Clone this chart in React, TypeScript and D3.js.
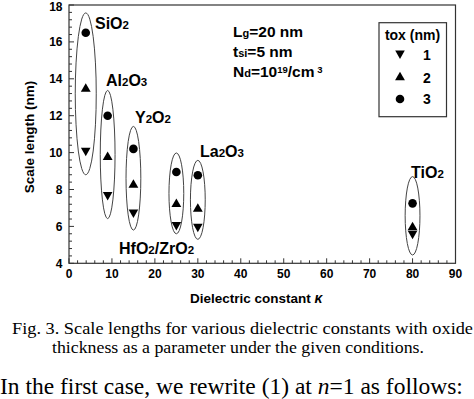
import React, { useEffect, useRef } from 'react'
import * as d3 from 'd3'

// oxides, their dielectric constants and scale lengths (nm) per tox
const oxideNames = ['SiO', 'Al', 'Y', 'HfO', 'La', 'TiO']
const kappa = [3.9, 9, 15, 25, 30, 80]
const tox1 = [10.05, 7.65, 6.7, 6.02, 5.93, 5.55] // tox = 1 nm, down triangle
const tox2 = [13.45, 9.75, 8.25, 7.2, 6.95, 5.95] // tox = 2 nm, up triangle
const tox3 = [16.5, 12.0, 10.2, 8.95, 8.77, 7.25] // tox = 3 nm, circle
// vertical extent of the grouping ellipses (nm)
const groupTop = [17.57, 13.37, 11.42, 9.98, 9.58, 8.7]
const groupBottom = [8.8, 6.42, 5.8, 5.6, 5.3, 4.45]

const xTicks = [0, 10, 20, 30, 40, 50, 60, 70, 80, 90]
const yTicks = [4, 6, 8, 10, 12, 14, 16, 18]
const legendLabels = ['1', '2', '3']

const W = 474
const H = 399

const App = () => {
  const ref = useRef<SVGSVGElement>(null)

  useEffect(() => {
    const svg = d3.select(ref.current)
    svg.selectAll('*').remove()

    const x = d3.scaleLinear().domain([0, 90]).range([69, 455.5])
    const y = d3.scaleLinear().domain([4, 18]).range([263.3, 5])
    const bold = 'Arial, "Liberation Sans", sans-serif'

    // frame
    svg.append('rect')
      .attr('x', x(0)).attr('y', y(18))
      .attr('width', x(90) - x(0)).attr('height', y(4) - y(18))
      .attr('fill', 'none').attr('stroke', '#333').attr('stroke-width', 1.2)

    // ticks point inward
    const g = svg.append('g')
    d3.range(0, 91, 2).forEach((v) => {
      const major = v % 10 === 0
      g.append('line')
        .attr('x1', x(v)).attr('x2', x(v))
        .attr('y1', y(4)).attr('y2', y(4) - (major ? 5 : 3))
        .attr('stroke', '#333').attr('stroke-width', 1)
    })
    d3.range(4, 18.01, 0.4).forEach((v) => {
      const major = Math.abs(v - Math.round(v)) < 0.01 && Math.round(v) % 2 === 0
      g.append('line')
        .attr('x1', x(0)).attr('x2', x(0) + (major ? 5 : 3))
        .attr('y1', y(v)).attr('y2', y(v))
        .attr('stroke', '#333').attr('stroke-width', 1)
    })

    g.selectAll('.xl').data(xTicks).enter().append('text')
      .attr('x', (d) => x(d)).attr('y', 278)
      .attr('text-anchor', 'middle')
      .attr('font-family', bold).attr('font-weight', 'bold').attr('font-size', 12)
      .text((d) => d)
    g.selectAll('.yl').data(yTicks).enter().append('text')
      .attr('x', 62.5).attr('y', (d) => Math.max(y(d) + 4.3, 11))
      .attr('text-anchor', 'end')
      .attr('font-family', bold).attr('font-weight', 'bold').attr('font-size', 12)
      .text((d) => d)

    // axis titles
    const xt = svg.append('text')
      .attr('x', 190).attr('y', 303)
      .attr('font-family', bold).attr('font-weight', 'bold').attr('font-size', 13.5)
    xt.append('tspan').text('Dielectric constant  ')
    xt.append('tspan').attr('font-style', 'italic').attr('font-size', 14).text('κ')

    svg.append('text')
      .attr('transform', 'translate(34,137) rotate(-90)')
      .attr('text-anchor', 'middle')
      .attr('font-family', bold).attr('font-weight', 'bold').attr('font-size', 13.5)
      .text('Scale length (nm)')

    // grouping ellipses
    kappa.forEach((k, i) => {
      svg.append('ellipse')
        .attr('cx', x(k))
        .attr('cy', (y(groupTop[i]) + y(groupBottom[i])) / 2)
        .attr('rx', i === 0 ? 10.5 : 7.4)
        .attr('ry', (y(groupBottom[i]) - y(groupTop[i])) / 2)
        .attr('fill', 'none').attr('stroke', '#444').attr('stroke-width', 1)
    })

    const triUp = d3.symbol().type(d3.symbolTriangle).size(42)
    const triDown = 'M-4.8,-4 L4.8,-4 L0,4.5 Z'
    const dots = svg.append('g')
    kappa.forEach((k, i) => {
      dots.append('path').attr('d', triDown)
        .attr('transform', `translate(${x(k)},${y(tox1[i])})`).attr('fill', '#000')
      dots.append('path').attr('d', triUp()!)
        .attr('transform', `translate(${x(k)},${y(tox2[i])})`).attr('fill', '#000')
      dots.append('circle').attr('cx', x(k)).attr('cy', y(tox3[i])).attr('r', 4.3).attr('fill', '#000')
    })

    // oxide labels with subscripts
    const formula = (px: number, py: number, parts: [string, boolean][]) => {
      const t = svg.append('text').attr('x', px).attr('y', py)
        .attr('font-family', bold).attr('font-weight', 'bold').attr('font-size', 16)
      parts.forEach(([s, sub]) => {
        t.append('tspan').attr('font-size', sub ? 11.5 : 16).text(s)
      })
    }
    formula(95, 28.5, [[oxideNames[0], false], ['2', true]])
    formula(106, 86, [[oxideNames[1], false], ['2', true], ['O', false], ['3', true]])
    formula(135, 123, [[oxideNames[2], false], ['2', true], ['O', false], ['2', true]])
    formula(119, 253.5, [[oxideNames[3], false], ['2', true], ['/ZrO', false], ['2', true]])
    formula(200, 157, [[oxideNames[4], false], ['2', true], ['O', false], ['3', true]])
    formula(411, 177.5, [[oxideNames[5], false], ['2', true]])

    // conditions
    const cond = (py: number, parts: [string, string][]) => {
      const t = svg.append('text').attr('x', 233).attr('y', py)
        .attr('font-family', bold).attr('font-weight', 'bold').attr('font-size', 15.5)
      parts.forEach(([s, kind]) => {
        const ts = t.append('tspan').text(s)
        if (kind === 'sub') ts.attr('font-size', 11)
        if (kind === 'sup') ts.attr('font-size', 9.5).attr('baseline-shift', '45%')
      })
    }
    cond(37, [['L', ''], ['g', 'sub'], ['=20 nm', '']])
    cond(57, [['t', ''], ['si', 'sub'], ['=5 nm', '']])
    cond(76.5, [['N', ''], ['d', 'sub'], ['=10', ''], ['19', 'sup'], ['/cm', ''], [' 3', 'sup']])

    // legend
    const lg = svg.append('g')
    lg.append('rect').attr('x', 379).attr('y', 22.7).attr('width', 67.5).attr('height', 94)
      .attr('fill', '#fff').attr('stroke', '#333').attr('stroke-width', 1.2)
    lg.append('text').attr('x', 412.5).attr('y', 39.5).attr('text-anchor', 'middle')
      .attr('font-family', bold).attr('font-weight', 'bold').attr('font-size', 14)
      .text('tox (nm)')
    const rowsY = [54.5, 77.5, 99]
    lg.append('path').attr('d', triDown).attr('transform', `translate(400,${rowsY[0]})`)
    lg.append('path').attr('d', triUp()!).attr('transform', `translate(400,${rowsY[1]})`)
    lg.append('circle').attr('cx', 400).attr('cy', rowsY[2]).attr('r', 4.3)
    lg.selectAll('.ln').data(legendLabels).enter().append('text')
      .attr('x', 427).attr('y', (_, i) => rowsY[i] + 5).attr('text-anchor', 'middle')
      .attr('font-family', bold).attr('font-weight', 'bold').attr('font-size', 14)
      .text((d) => d)

    // caption and following paragraph
    const serif = '"Liberation Serif", "Times New Roman", serif'
    svg.append('text').attr('x', 12).attr('y', 333.5)
      .attr('font-family', serif).attr('font-size', 17)
      .attr('textLength', 461).attr('lengthAdjust', 'spacingAndGlyphs')
      .text('Fig. 3. Scale lengths for various dielectric constants with oxide')
    svg.append('text').attr('x', 52).attr('y', 353)
      .attr('font-family', serif).attr('font-size', 17)
      .attr('textLength', 372).attr('lengthAdjust', 'spacingAndGlyphs')
      .text('thickness as a parameter under the given conditions.')
    const p = svg.append('text').attr('x', 0).attr('y', 393.5)
      .attr('font-family', serif).attr('font-size', 23.5)
    p.append('tspan').text('In the first case, we rewrite (1) at ')
    p.append('tspan').attr('font-style', 'italic').text('n')
    p.append('tspan').text('=1 as follows:')
  }, [])

  return (
    <svg ref={ref} width={W} height={H}
      style={{ position: 'absolute', left: 0, top: 0, background: '#fff' }} />
  )
}

export default App
